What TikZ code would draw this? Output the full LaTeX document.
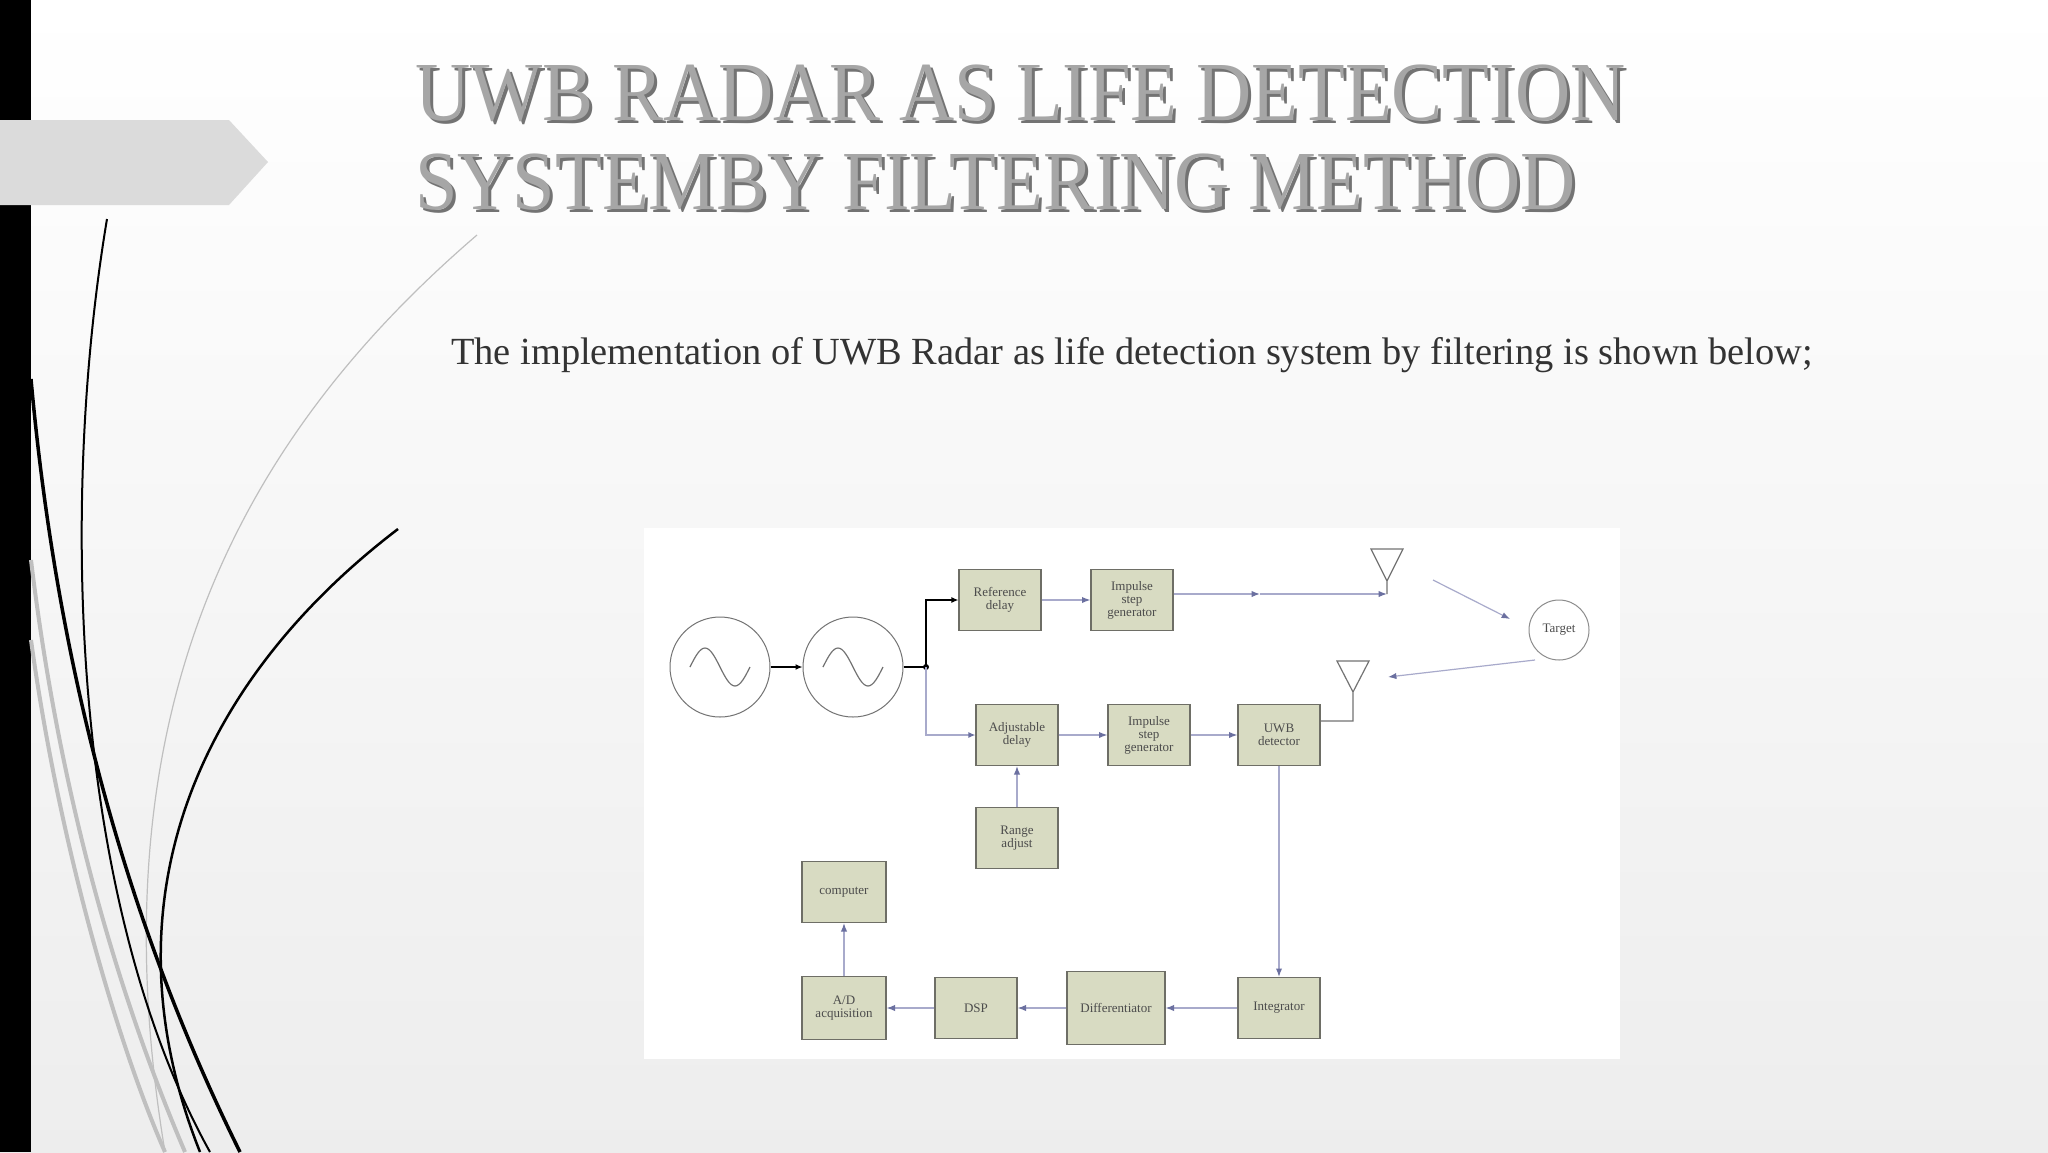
\documentclass[tikz,border=0pt]{standalone}
\usepackage{fontspec}
\setmainfont{Liberation Serif}
\usetikzlibrary{arrows.meta}
\definecolor{boxfill}{HTML}{D8DBC2}
\definecolor{boxline}{HTML}{6E6E66}
\definecolor{arr}{HTML}{6B70A0}
\definecolor{lin}{HTML}{A8AACB}
\tikzset{
  blk/.style={draw=boxline,line width=1.2pt,fill=boxfill,minimum width=82pt,minimum height=61pt,inner sep=0pt,align=center,font=\fontsize{13}{13}\selectfont,text=black!70},
  osc/.style={circle,draw=black!55,line width=1pt,minimum size=100pt,inner sep=0pt},
  con/.style={draw=lin,line width=1.2pt,-{Latex[length=7pt,width=6pt]},arrows={-{Latex[color=arr]}}},
  ttl/.style={anchor=base west,inner sep=0pt,xscale=0.91,font=\fontsize{84}{90}\selectfont},
  swb/.style={line width=3.5pt,black},
  swg/.style={line width=4pt,black!25}
}
\begin{document}
\begin{tikzpicture}[x=1pt,y=-1pt]
\useasboundingbox (0,0) rectangle (2048,1152);
\shade[top color=white,bottom color=black!7] (0,0) rectangle (2048,1152);
% decorations
\fill[black] (0,0) rectangle (31,1152);
\fill[black!14] (0,120) -- (229,120) -- (268,162) -- (229,205) -- (0,205) -- cycle;
\draw[black!25,line width=1.2pt] (477,235) .. controls (250,430) and (90,700) .. (165,1152);
\draw[swg] (31,560) .. controls (60,800) and (120,1000) .. (185,1152);
\draw[swg] (31,640) .. controls (60,850) and (120,1050) .. (165,1152);
\draw[black,line width=2pt] (107,219) .. controls (60,500) and (70,900) .. (210,1152);
\draw[swb] (31,379) .. controls (60,700) and (140,950) .. (240,1152);
\draw[black,line width=2.5pt] (398,529) .. controls (200,680) and (100,900) .. (200,1152);
% title
\node[ttl,text=black!55] at (418,123) {UWB RADAR AS LIFE DETECTION};
\node[ttl,text=black!55] at (418,212) {SYSTEMBY FILTERING METHOD};
\node[ttl,text=black!35] at (415,120) {UWB RADAR AS LIFE DETECTION};
\node[ttl,text=black!35] at (415,209) {SYSTEMBY FILTERING METHOD};
\node[anchor=base west,inner sep=0pt,text=black!80,font=\fontsize{38.4}{40}\selectfont] at (451,364) {The implementation of UWB Radar as life detection system by filtering is shown below;};
% diagram panel
\fill[white] (644,528) rectangle (1620,1059);
\node[osc] (o1) at (720,667) {};
\node[osc] (o2) at (853,667) {};
\draw[black!55,line width=1.2pt] (690,667) sin (705,648) cos (720,667) sin (735,686) cos (750,667);
\draw[black!55,line width=1.2pt] (823,667) sin (838,648) cos (853,667) sin (868,686) cos (883,667);
\node[blk] (rd) at (1000,600) {Reference\\delay};
\node[blk] (ig1) at (1132,600) {Impulse\\step\\generator};
\node[blk] (ad) at (1017,735) {Adjustable\\delay};
\node[blk] (ig2) at (1149,735) {Impulse\\step\\generator};
\node[blk] (uwb) at (1279,735) {UWB\\detector};
\node[blk] (ra) at (1017,838) {Range\\adjust};
\node[blk,minimum width=84pt] (pc) at (844,892) {computer};
\node[blk,minimum width=84pt,minimum height=63pt] (adc) at (844,1008) {A/D\\acquisition};
\node[blk] (dsp) at (976,1008) {DSP};
\node[blk,minimum width=98pt,minimum height=73pt] (dif) at (1116,1008) {Differentiator};
\node[blk] (int) at (1279,1008) {Integrator};
\node[circle,draw=black!45,line width=1pt,minimum size=60pt,inner sep=0pt,font=\fontsize{13}{13}\selectfont,text=black!70] (tg) at (1559,630) {Target};
% antennas
\coordinate (a1) at (1387,594);
\draw[black!55,line width=1.2pt] (1371,549) -- (1403,549) -- (1387,581) -- cycle (1387,581) -- (a1);
\coordinate (a2) at (1353,721);
\draw[black!55,line width=1.2pt] (1337,661) -- (1369,661) -- (1353,692) -- cycle (1353,692) -- (a2) -- (uwb.east |- a2);
% connectors
\coordinate (j) at (926,667);
\draw[black,line width=1.2pt,-{Latex[length=7pt,width=6pt]}] (o1) -- (o2);
\draw[black,line width=1.2pt] (o2) -- (j);
\fill[black] (j) circle (3pt);
\draw[black,line width=1.2pt,-{Latex[length=7pt,width=6pt]}] (j) |- (rd.west);
\draw[lin,line width=1.2pt,-{Latex[length=7pt,width=6pt,color=arr]}] (j) |- (ad.west);
\draw[con] (rd) -- (ig1);
\coordinate (m1) at (1260,594);
\draw[con] (ig1.east |- a1) -- (m1);
\draw[con] (m1) -- (a1);
\coordinate (s1) at (1433,580); \coordinate (s2) at (1510,619);
\draw[con] (s1) -- (s2);
\coordinate (r1) at (1535,660); \coordinate (r2) at (1388,677);
\draw[con] (r1) -- (r2);
\draw[con] (ad) -- (ig2);
\draw[con] (ig2) -- (uwb);
\draw[con] (ra) -- (ad);
\draw[con] (uwb) -- (int);
\draw[con] (int) -- (dif);
\draw[con] (dif) -- (dsp);
\draw[con] (dsp) -- (adc);
\draw[con] (adc) -- (pc);
\end{tikzpicture}
\end{document}
